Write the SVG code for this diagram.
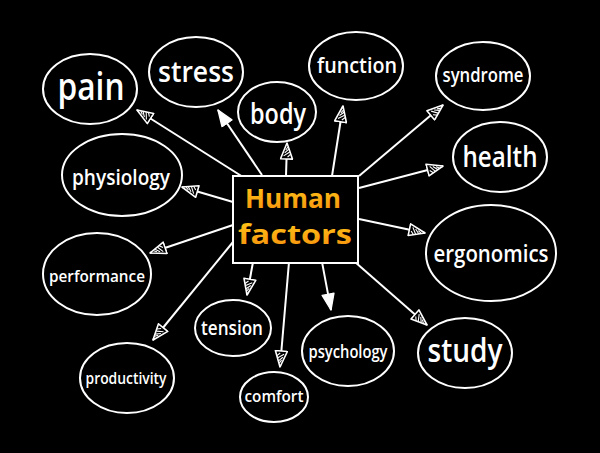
<svg xmlns="http://www.w3.org/2000/svg" width="600" height="453" viewBox="0 0 600 453">
<defs>
<linearGradient id="og" x1="0" y1="0" x2="0" y2="1">
<stop offset="0" stop-color="#ffcf1a"/>
<stop offset="1" stop-color="#f58a0c"/>
</linearGradient>
<marker id="ah" viewBox="0 0 18 14" refX="17" refY="7" markerWidth="18" markerHeight="14" markerUnits="userSpaceOnUse" orient="auto">
<path d="M1,1 L17,7 L1,13 Z" fill="#000" stroke="#fff" stroke-width="1.6" stroke-linejoin="round"/>
<path d="M4,4 L8,10 M7,5 L11,9 M3,8 L6,11 M10,6 L13,8" stroke="#fff" stroke-width="1.1" fill="none"/>
</marker>
<marker id="ahs" viewBox="0 0 18 14" refX="17" refY="7" markerWidth="18" markerHeight="14" markerUnits="userSpaceOnUse" orient="auto">
<path d="M1,1 L17,7 L1,13 Z" fill="#fff" stroke="#fff" stroke-width="1.4" stroke-linejoin="round"/>
</marker>
</defs>
<style>
.bg{fill:#000}
.el{fill:none;stroke:#fff;stroke-width:2}
.t{fill:#fff;font-family:"Open Sans","Liberation Sans",sans-serif;font-weight:600;text-anchor:middle}
.c{stroke:#fff;stroke-width:2;fill:none;marker-end:url(#ah)}
.ht{fill:url(#og);font-family:"Open Sans","Liberation Sans",sans-serif;font-weight:700;text-anchor:middle}
</style>
<rect class="bg" x="0" y="0" width="600" height="453"/>
<g id="connectors">
<line class="c" x1="243" y1="177" x2="137" y2="110"/>
<line class="c" x1="262" y1="175" x2="218" y2="110" style="marker-end:url(#ahs)"/>
<line class="c" x1="233" y1="202" x2="182" y2="187"/>
<line class="c" x1="286" y1="176" x2="287" y2="143"/>
<line class="c" x1="332" y1="176" x2="343" y2="106"/>
<line class="c" x1="359" y1="176" x2="443" y2="105"/>
<line class="c" x1="359" y1="188" x2="443" y2="166"/>
<line class="c" x1="359" y1="219" x2="425" y2="233"/>
<line class="c" x1="355" y1="262" x2="427" y2="325"/>
<line class="c" x1="322" y1="262" x2="331" y2="310" style="marker-end:url(#ahs)"/>
<line class="c" x1="289" y1="262" x2="280" y2="367"/>
<line class="c" x1="253" y1="262" x2="247" y2="295"/>
<line class="c" x1="233" y1="242" x2="153" y2="340"/>
<line class="c" x1="233" y1="225" x2="150" y2="253"/>
</g>
<g id="center">
<rect x="233" y="176" width="125" height="87" fill="#000" stroke="#fff" stroke-width="2"/>
<text class="ht" x="293" y="208" font-size="26" textLength="96" lengthAdjust="spacingAndGlyphs">Human</text>
<text class="ht" x="295" y="244" font-size="26" textLength="114" lengthAdjust="spacingAndGlyphs">factors</text>
</g>
<g id="pain"><ellipse class="el" cx="90" cy="89" rx="47" ry="35"/><text class="t" x="91" y="100" font-size="38" textLength="67" lengthAdjust="spacingAndGlyphs">pain</text></g>
<g id="stress"><ellipse class="el" cx="196" cy="72" rx="47" ry="35"/><text class="t" x="196" y="82" font-size="28" textLength="76" lengthAdjust="spacingAndGlyphs">stress</text></g>
<g id="physiology"><ellipse class="el" cx="122" cy="175" rx="60" ry="41"/><text class="t" x="121" y="185" font-size="22" textLength="98" lengthAdjust="spacingAndGlyphs">physiology</text></g>
<g id="body"><ellipse class="el" cx="277" cy="112" rx="39" ry="30"/><text class="t" x="278" y="124" font-size="28" textLength="56" lengthAdjust="spacingAndGlyphs">body</text></g>
<g id="function"><ellipse class="el" cx="356" cy="66" rx="47" ry="34"/><text class="t" x="357" y="73" font-size="22" textLength="80" lengthAdjust="spacingAndGlyphs">function</text></g>
<g id="syndrome"><ellipse class="el" cx="483" cy="76" rx="47" ry="34"/><text class="t" x="483" y="82" font-size="19" textLength="81" lengthAdjust="spacingAndGlyphs">syndrome</text></g>
<g id="health"><ellipse class="el" cx="500" cy="157" rx="47" ry="35"/><text class="t" x="500" y="167" font-size="28" textLength="75" lengthAdjust="spacingAndGlyphs">health</text></g>
<g id="ergonomics"><ellipse class="el" cx="491" cy="253" rx="65" ry="48"/><text class="t" x="491" y="262" font-size="24" textLength="115" lengthAdjust="spacingAndGlyphs">ergonomics</text></g>
<g id="study"><ellipse class="el" cx="465" cy="353" rx="47" ry="35"/><text class="t" x="465" y="362" font-size="32" textLength="75" lengthAdjust="spacingAndGlyphs">study</text></g>
<g id="psychology"><ellipse class="el" cx="348" cy="351" rx="46" ry="35"/><text class="t" x="348" y="358" font-size="18" textLength="79" lengthAdjust="spacingAndGlyphs">psychology</text></g>
<g id="comfort"><ellipse class="el" cx="274" cy="397" rx="34" ry="25"/><text class="t" x="274" y="402" font-size="16" textLength="59" lengthAdjust="spacingAndGlyphs">comfort</text></g>
<g id="tension"><ellipse class="el" cx="233" cy="328" rx="38" ry="28"/><text class="t" x="232" y="335" font-size="19" textLength="62" lengthAdjust="spacingAndGlyphs">tension</text></g>
<g id="productivity"><ellipse class="el" cx="127" cy="378" rx="47" ry="35"/><text class="t" x="126" y="384" font-size="16" textLength="81" lengthAdjust="spacingAndGlyphs">productivity</text></g>
<g id="performance"><ellipse class="el" cx="97" cy="274" rx="54" ry="41"/><text class="t" x="97" y="282" font-size="17" textLength="96" lengthAdjust="spacingAndGlyphs">performance</text></g>
</svg>
